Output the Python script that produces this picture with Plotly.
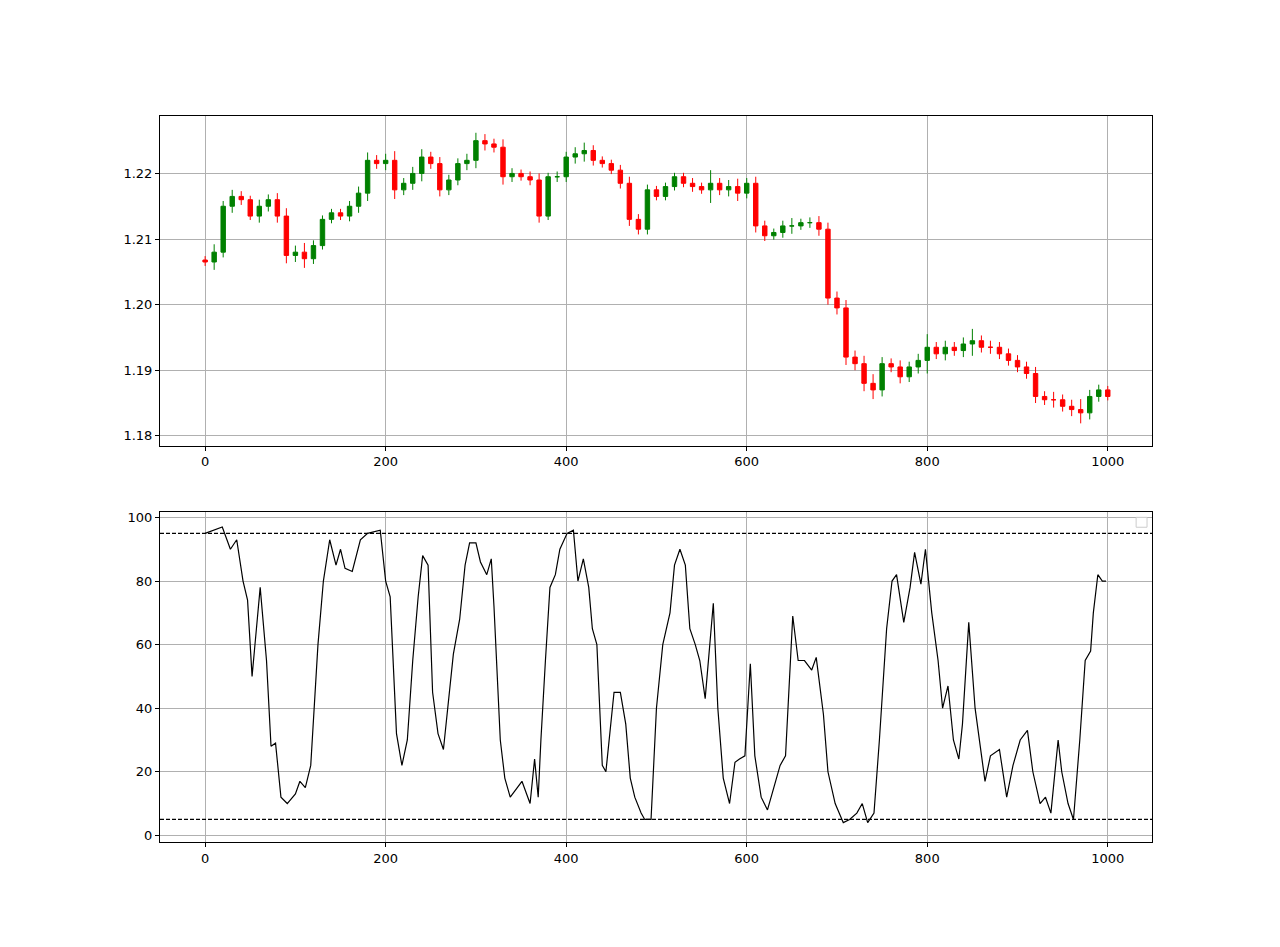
import plotly.graph_objects as go
from plotly.subplots import make_subplots

# candle closes sampled every 10 bars (open = previous close)
bar_x = list(range(0, 1001, 10))
close = [1.2065, 1.2080, 1.2150, 1.2165, 1.2160, 1.2135, 1.2150, 1.2160, 1.2135, 1.2075,
         1.2080, 1.2070, 1.2090, 1.2130, 1.2140, 1.2135, 1.2150, 1.2170, 1.2220, 1.2215,
         1.2220, 1.2175, 1.2185, 1.2200, 1.2225, 1.2215, 1.2175, 1.2190, 1.2215, 1.2220,
         1.2250, 1.2245, 1.2240, 1.2195, 1.2200, 1.2195, 1.2190, 1.2135, 1.2195, 1.2195,
         1.2225, 1.2230, 1.2235, 1.2220, 1.2215, 1.2205, 1.2185, 1.2130, 1.2115, 1.2175,
         1.2165, 1.2180, 1.2195, 1.2185, 1.2180, 1.2175, 1.2185, 1.2175, 1.2180, 1.2170,
         1.2185, 1.2120, 1.2105, 1.2110, 1.2120, 1.2120, 1.2125, 1.2125, 1.2115, 1.2010,
         1.1995, 1.1920, 1.1910, 1.1880, 1.1870, 1.1910, 1.1905, 1.1890, 1.1905, 1.1915,
         1.1935, 1.1925, 1.1935, 1.1930, 1.1940, 1.1945, 1.1935, 1.1935, 1.1925, 1.1915,
         1.1905, 1.1895, 1.1860, 1.1855, 1.1855, 1.1845, 1.1840, 1.1835, 1.1860, 1.1870,
         1.1860]
open_ = [1.2068] + close[:-1]
wick = [0.0006, 0.0012, 0.0008, 0.0010, 0.0008, 0.0006, 0.0010, 0.0008, 0.0010, 0.0012,
        0.0010, 0.0014, 0.0008, 0.0006, 0.0006, 0.0006, 0.0008, 0.0010, 0.0012, 0.0008,
        0.0010, 0.0014, 0.0008, 0.0010, 0.0012, 0.0008, 0.0010, 0.0008, 0.0008, 0.0010,
        0.0012, 0.0010, 0.0008, 0.0012, 0.0008, 0.0006, 0.0008, 0.0010, 0.0006, 0.0008,
        0.0008, 0.0010, 0.0012, 0.0008, 0.0006, 0.0006, 0.0008, 0.0010, 0.0008, 0.0008,
        0.0006, 0.0006, 0.0006, 0.0006, 0.0008, 0.0006, 0.0020, 0.0008, 0.0010, 0.0012,
        0.0008, 0.0010, 0.0008, 0.0006, 0.0008, 0.0012, 0.0006, 0.0008, 0.0010, 0.0010,
        0.0010, 0.0012, 0.0010, 0.0012, 0.0014, 0.0010, 0.0008, 0.0010, 0.0008, 0.0010,
        0.0020, 0.0008, 0.0010, 0.0008, 0.0010, 0.0018, 0.0008, 0.0010, 0.0008, 0.0008,
        0.0008, 0.0008, 0.0010, 0.0008, 0.0012, 0.0008, 0.0010, 0.0016, 0.0010, 0.0008,
        0.0006]
high = [max(o, c) + w for o, c, w in zip(open_, close, wick)]
low = [min(o, c) - w for o, c, w in zip(open_, close, wick)]

# oscillator
osc_x = [0, 19, 28, 35, 42, 47, 52, 61, 68, 73, 78, 84, 91, 100, 105, 111, 117, 125, 131, 138,
         145, 150, 155, 163, 172, 180, 194, 200, 205, 212, 218, 224, 230, 236, 241, 247, 252,
         258, 264, 269, 275, 282, 288, 293, 300, 305, 312, 317, 320, 327, 332, 338, 343, 351,
         360, 365, 369, 372, 377, 382, 388, 393, 401, 408, 413, 419, 425, 429, 434, 440, 444,
         449, 453, 460, 466, 471, 476, 483, 487, 494, 500, 507, 515, 520, 526, 532, 537, 543,
         548, 554, 563, 568, 574, 581, 587, 592, 598, 604, 609, 616, 623, 629, 637, 643, 651,
         657, 664, 672, 677, 685, 690, 698, 707, 714, 722, 728, 734, 741, 747, 755, 761, 766,
         774, 781, 786, 793, 798, 805, 812, 817, 823, 829, 835, 839, 846, 853, 858, 864, 870,
         875, 880, 888, 895, 903, 911, 917, 925, 931, 937, 945, 949, 956, 962, 969, 975, 981,
         984, 989, 994, 998]
osc = [95, 97, 90, 93, 80, 74, 50, 78, 55, 28, 29, 12, 10, 13, 17, 15, 22, 60, 80, 93,
       85, 90, 84, 83, 93, 95, 96, 80, 75, 32, 22, 30, 55, 75, 88, 85, 45,
       32, 27, 40, 57, 68, 85, 92, 92, 86, 82, 87, 72, 30, 18, 12, 14, 17,
       10, 24, 12, 30, 55, 78, 82, 90, 95, 96, 80, 87, 78, 65, 60, 22, 20,
       35, 45, 45, 35, 18, 12, 7, 5, 5, 40, 60, 70, 85, 90, 85, 65, 60,
       55, 43, 73, 40, 18, 10, 23, 24, 25, 54, 25, 12, 8, 14, 22, 25, 69,
       55, 55, 52, 56, 38, 20, 10, 4, 5, 7, 10, 4, 7, 30, 65, 80, 82,
       67, 78, 89, 79, 90, 70, 55, 40, 47, 30, 24, 35, 67, 40, 30, 17, 25,
       26, 27, 12, 22, 30, 33, 20, 10, 12, 7, 30, 20, 10, 5, 30, 55, 58,
       70, 82, 80, 80]
levels = [95, 5]

fig = make_subplots(rows=2, cols=1, vertical_spacing=0.07)

fig.add_trace(go.Candlestick(
    x=bar_x, open=open_, high=high, low=low, close=close,
    increasing={"line": {"color": "green", "width": 1}, "fillcolor": "green"},
    decreasing={"line": {"color": "red", "width": 1}, "fillcolor": "red"},
    whiskerwidth=0, showlegend=False), row=1, col=1)

fig.add_trace(go.Scatter(x=osc_x, y=osc, mode="lines",
                         line={"color": "black", "width": 1.2}, showlegend=False),
              row=2, col=1)

for lv in levels:
    fig.add_hline(y=lv, line={"color": "black", "width": 1.2, "dash": "4px,2px"},
                  row=2, col=1)

axis_style = dict(showline=True, linecolor="black", linewidth=1, mirror=True,
                  showgrid=True, gridcolor="#b0b0b0", gridwidth=1,
                  ticks="outside", ticklen=4, tickcolor="black", zeroline=False)
fig.update_xaxes(**axis_style, range=[-50, 1049], dtick=200, rangeslider_visible=False)
fig.update_yaxes(**axis_style)
fig.update_xaxes(domain=[0.11875, 0.89375], row=1, col=1)
fig.update_xaxes(domain=[0.11875, 0.89375], row=2, col=1)
fig.update_yaxes(domain=[0.5385, 0.888], range=[1.1785, 1.2288], dtick=0.01,
                 tickformat=".2f", row=1, col=1)
fig.update_yaxes(domain=[0.1183, 0.4678], range=[-2.2, 101.6], dtick=20, row=2, col=1)

# empty legend box, top right of the lower panel
fig.add_shape(type="rect", xref="x2 domain", yref="y2 domain",
              x0=0.984, x1=0.995, y0=0.955, y1=0.985,
              line={"color": "#cccccc", "width": 1}, fillcolor="white")

fig.update_layout(
    width=1280, height=947,
    margin={"l": 0, "r": 0, "t": 0, "b": 0},
    paper_bgcolor="white", plot_bgcolor="white",
    font={"family": "DejaVu Sans", "size": 13, "color": "black"},
)

fig.write_html("out.html")
